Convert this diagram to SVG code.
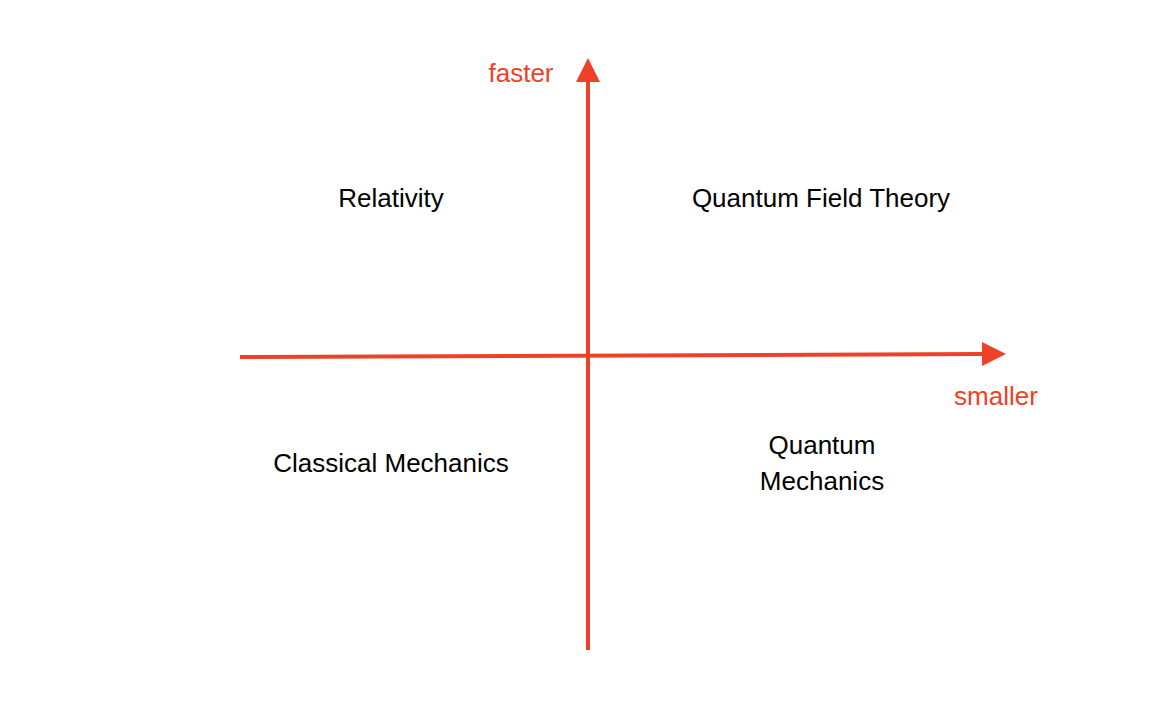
<svg xmlns="http://www.w3.org/2000/svg" width="1168" height="726" viewBox="0 0 1168 726">
<style>
.t{font-family:"Liberation Sans",Arial,sans-serif;font-size:26px;fill:#000;text-anchor:middle}
.a{font-family:"Liberation Sans",Arial,sans-serif;font-size:26px;fill:#EE4127;text-anchor:middle}
.ax{stroke:#EE4127;stroke-width:4;fill:none}
</style>
<defs><marker id="ah" viewBox="0 0 10 10" refX="0" refY="5" markerWidth="6" markerHeight="6" orient="auto" markerUnits="strokeWidth"><path d="M0,0L10,5L0,10z" fill="#EE4127"/></marker></defs>
<rect width="1168" height="726" fill="#fff"/>
<g id="connectors">
<line class="ax" x1="588" y1="650" x2="588" y2="82" marker-end="url(#ah)"/>
<line class="ax" x1="240" y1="357" x2="982" y2="354" marker-end="url(#ah)"/>
</g>
<g id="faster"><text class="a" x="521" y="82">faster</text></g>
<g id="smaller"><text class="a" x="996" y="405">smaller</text></g>
<g id="relativity"><text class="t" x="391" y="207">Relativity</text></g>
<g id="qft"><text class="t" x="821" y="207">Quantum Field Theory</text></g>
<g id="cm"><text class="t" x="391" y="472">Classical Mechanics</text></g>
<g id="qm"><text class="t" x="822" y="454">Quantum</text><text class="t" x="822" y="490">Mechanics</text></g>
</svg>
